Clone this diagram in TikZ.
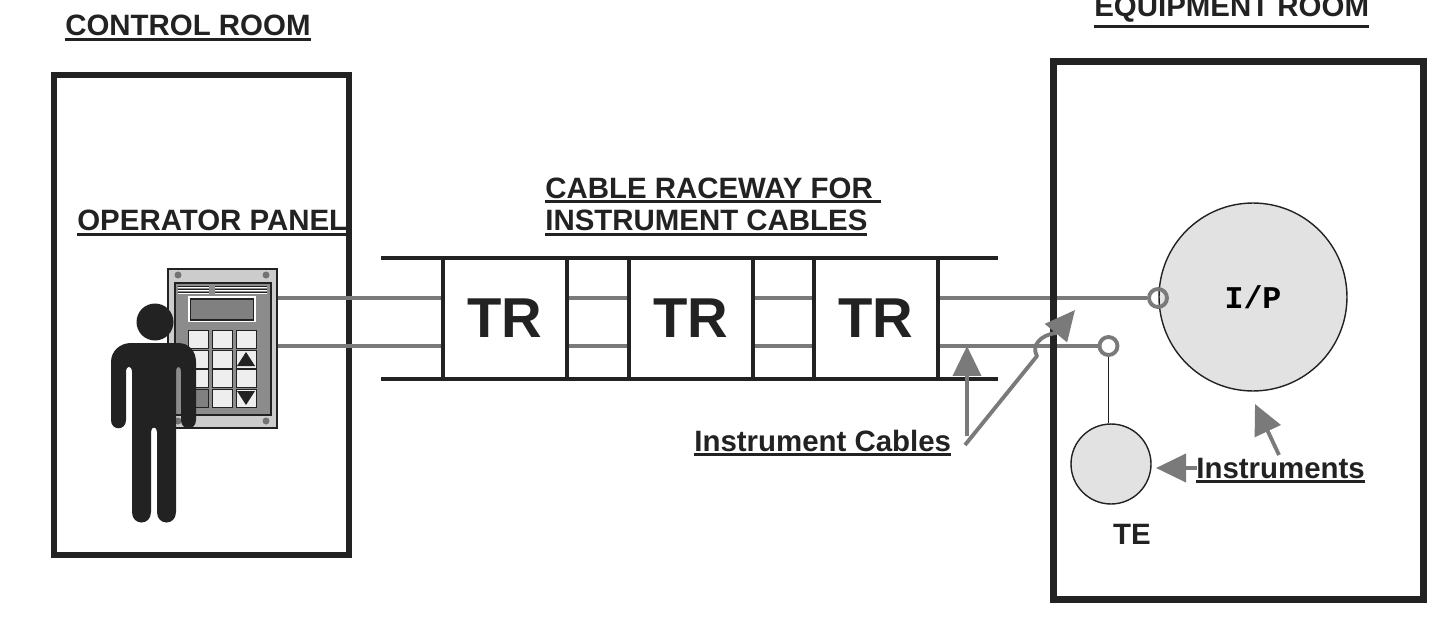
\documentclass[tikz,border=0pt]{standalone}
\usepackage{fontspec}
\setmainfont{Liberation Sans}
\newfontfamily\ipfont{Liberation Mono}
\usetikzlibrary{arrows.meta}
\usetikzlibrary{positioning}
\definecolor{inkBlack}{HTML}{222222}
\definecolor{cableGray}{HTML}{7A7A7A}
\definecolor{instrGray}{HTML}{E2E2E2}
\newcommand{\ulabel}[1]{\vtop{\hbox{#1}\kern 1.2pt\hrule height 1.6pt}}
\tikzstyle{room} = [rectangle, draw=inkBlack, line width=3.4pt, inner sep=0pt]
\tikzstyle{trbox} = [rectangle, minimum width=2.48cm, minimum height=2.42cm, draw=inkBlack, fill=white, line width=2.2pt, font=\bfseries\fontsize{32}{32}\selectfont, text=inkBlack, inner sep=0pt]
\tikzstyle{heading} = [anchor=base west, inner sep=0pt, font=\bfseries\fontsize{16.75}{16.75}\selectfont, text=inkBlack]
\tikzstyle{instr} = [circle, draw=inkBlack, fill=instrGray, line width=0.8pt, inner sep=0pt]
\tikzstyle{port} = [circle, draw=cableGray, line width=2.2pt, minimum size=0.36cm, inner sep=0pt]
\tikzstyle{cable} = [draw=cableGray, line width=2.2pt]
\tikzstyle{raceway} = [draw=inkBlack, line width=2.2pt]
\tikzstyle{pointer} = [draw=cableGray, line width=2.2pt, -{Triangle[length=0.6cm, width=0.56cm, fill=cableGray]}]
\tikzstyle{keycap} = [rectangle, draw=inkBlack, fill=instrGray!60, line width=0.4pt, minimum width=0.4cm, minimum height=0.35cm, inner sep=0pt]
\begin{document}
\begin{tikzpicture}[x=0.02cm, y=-0.02cm]
	\useasboundingbox (0,0) rectangle (1455,642);
	% rooms and raceway
	\node (CR) [room, minimum width=5.92cm, minimum height=9.62cm] at (201.5,315) {};
	\coordinate (PanelA) at (277,298);
	\coordinate (PanelB) at (277,346);
	\node (TR1) [trbox] at (505,318.5) {TR};
	\node (TR2) [trbox] at (691,318.5) {TR};
	\node (TR3) [trbox] at (876,318.5) {TR};
	\coordinate (RaceTop) at (381,258);
	\coordinate (RaceTopR) at (998,258);
	\coordinate (RaceBot) at (381,379);
	\coordinate (RaceBotR) at (998,379);
	\node (IP) [instr, minimum size=3.76cm, font=\ipfont\bfseries\fontsize{18}{18}\selectfont] at (1253,297) {I/P};
	\node (TE) [instr, minimum size=1.6cm] at (1111,464) {};
	\node (PortA) [port] at (1158,298) {};
	\node (PortB) [port] at (1108.5,346) {};
	% cables
	\draw [cable] (PanelA) -- (PanelA -| TR1.west);
	\draw [cable] (PanelB) -- (PanelB -| TR1.west);
	\draw [cable] (PanelA -| TR1.east) -- (PanelA -| TR2.west);
	\draw [cable] (PanelB -| TR1.east) -- (PanelB -| TR2.west);
	\draw [cable] (PanelA -| TR2.east) -- (PanelA -| TR3.west);
	\draw [cable] (PanelB -| TR2.east) -- (PanelB -| TR3.west);
	\draw [cable] (PanelA -| TR3.east) -- (PortA.west);
	\draw [cable] (PanelB -| TR3.east) -- (PortB.west);
	\draw [draw=inkBlack, line width=0.6pt] (PortB.south) -- (PortB.south |- TE.north);
	\draw [raceway] (RaceTop) -- (RaceTop -| TR1.west);
	\draw [raceway] (RaceTop -| TR1.east) -- (RaceTop -| TR2.west);
	\draw [raceway] (RaceTop -| TR2.east) -- (RaceTop -| TR3.west);
	\draw [raceway] (RaceTop -| TR3.east) -- (RaceTopR);
	\draw [raceway] (RaceBot) -- (RaceBot -| TR1.west);
	\draw [raceway] (RaceBot -| TR1.east) -- (RaceBot -| TR2.west);
	\draw [raceway] (RaceBot -| TR2.east) -- (RaceBot -| TR3.west);
	\draw [raceway] (RaceBot -| TR3.east) -- (RaceBotR);
	\node (ER) [room, line width=4pt, minimum width=7.42cm, minimum height=10.78cm] at (1238.5,330.5) {};
	% labels
	\node (CRlabel) [heading] at (65,35.5) {\ulabel{CONTROL ROOM}};
	\node (ERlabel) [heading] at (1094,17) {\ulabel{EQUIPMENT ROOM}};
	\node (OPlabel) [heading] at (77,231) {\ulabel{OPERATOR PANEL}};
	\node (CRWlabel) [heading] at (545,198) {\ulabel{CABLE RACEWAY FOR\ }};
	\node (ICBlabel) [heading] at (545,231) {\ulabel{INSTRUMENT CABLES}};
	\node (ICLabel) [heading] at (694,451) {\ulabel{Instrument Cables}};
	\node (INLabel) [heading] at (1196,478) {\ulabel{Instruments}};
	\node (TElabel) [heading, anchor=base] at (1132,544) {TE};
	% pointers
	\coordinate (ICstart) at (967,436);
	\coordinate (ICdiag) at (965,445);
	\coordinate (ICkink) at (1037,356);
	\coordinate (INstart) at (1279,455);
	\coordinate (INend) at (1197,468);
	\coordinate (TEtip) at (1156,468);
	\draw [pointer] (ICstart) -- (ICstart |- PanelB);
	\draw [pointer, line join=round] (ICdiag) -- (ICkink) .. controls (1031,346) and (1040,335) .. (1056,333) -- (1075,310);
	\draw [pointer] (INend) -- (TEtip);
	\draw [pointer] (INstart) -- (1255,404);
	% operator panel
	\node (PanelOuter) [rectangle, draw=inkBlack, fill=black!20, line width=0.6pt, minimum width=2.18cm, minimum height=3.18cm, inner sep=0pt] at (222.5,348.5) {};
	\node (PanelInner) [rectangle, draw=inkBlack, fill=black!45, line width=0.6pt, minimum width=1.92cm, minimum height=2.64cm, inner sep=0pt] at (223,349) {};
	\foreach \sx/\sy in {178/275, 266/275, 178/421, 266/421}
		\fill [black!55] (\sx,\sy) circle (3.5);
	\foreach \vy in {287,290,293}
	{
		\fill [inkBlack] (178,\vy-1) rectangle (209,\vy);
		\fill [inkBlack] (215,\vy-1) rectangle (267,\vy);
		\fill [white] (178,\vy) rectangle (209,\vy+1);
		\fill [white] (215,\vy) rectangle (267,\vy+1);
	}
	\fill [white] (188,296) rectangle (256,322);
	\node (Display) [rectangle, draw=inkBlack, fill=black!50, line width=0.6pt, minimum width=1.26cm, minimum height=0.42cm, inner sep=0pt] at (222,309.5) {};
	\foreach \kx [count=\c] in {198,222,246}
		\foreach \ky [count=\r] in {339.5,359.5,378.5,398.5}
			\node (Key\c\r) [keycap] at (\kx,\ky) {};
	\node (KeyDark) [keycap, fill=black!50] at (198,398.5) {};
	\fill [inkBlack] (246,352) -- (255,366) -- (237,366) -- cycle;
	\fill [inkBlack] (246,405) -- (255,391) -- (237,391) -- cycle;
	% operator
	\fill [inkBlack] (155,322) circle (18.5);
	\fill [inkBlack] (131,343) -- (178,343) .. controls (189,343) and (196,351) .. (196,362) -- (196,420) .. controls (196,431) and (181,431) .. (181,420) -- (181,372) .. controls (181,365) and (176,365) .. (176,372) -- (176,512) .. controls (176,526) and (157,526) .. (157,512) -- (157,432) .. controls (157,426) and (151,426) .. (151,432) -- (151,512) .. controls (151,526) and (132,526) .. (132,512) -- (132,372) .. controls (132,365) and (126,365) .. (126,372) -- (126,420) .. controls (126,431) and (111,431) .. (111,420) -- (111,362) .. controls (111,351) and (120,343) .. (131,343) -- cycle;
\end{tikzpicture}
\end{document}
